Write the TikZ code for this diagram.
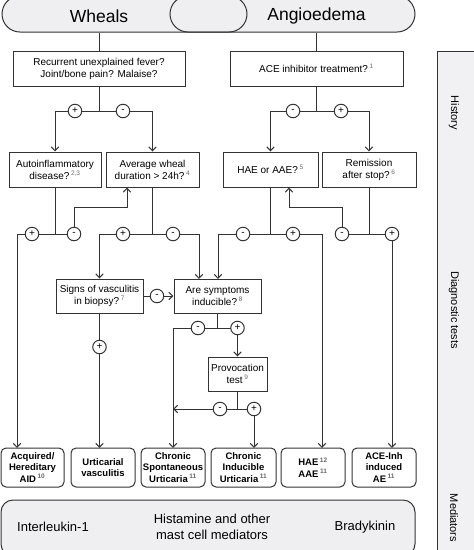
\documentclass[tikz,border=0pt]{standalone}
\usepackage{fontspec}
\setmainfont{Liberation Sans}
\usetikzlibrary{arrows.meta,calc}
\definecolor{lc}{HTML}{333333}
\definecolor{bfill}{HTML}{EFEFF1}
\definecolor{pfill}{HTML}{F1F1F3}
\definecolor{supc}{HTML}{666666}
\newcommand\refnum[1]{\,\textsuperscript{\color{supc}\fontsize{6.5}{6.5}\selectfont #1}}
\begin{document}
\begin{tikzpicture}[x=1pt,y=-1pt,
  line/.style={draw=lc, line width=1pt},
  box/.style={rectangle, draw=lc, line width=1pt, fill=white, align=center, inner sep=1pt, font=\fontsize{10}{12}\selectfont},
  res/.style={box, rounded corners=5pt, minimum width=64pt, minimum height=39pt, font=\fontsize{9.5}{11.7}\selectfont\bfseries},
  sg/.style={circle, draw=lc, line width=1pt, fill=white, minimum size=13.5pt, inner sep=0pt, font=\fontsize{10}{10}\selectfont},
  arr/.style={line, -{Straight Barb[length=4pt,width=7.5pt]}},
  bannerbg/.style={rectangle, fill=bfill, rounded corners=18pt, minimum height=36pt},
  bannerln/.style={rectangle, draw=lc, line width=1pt, rounded corners=18pt, minimum height=36pt},
  bantxt/.style={font=\fontsize{17.5}{17.5}\selectfont, inner sep=0pt},
  medtxt/.style={font=\fontsize{13}{16}\selectfont, align=center, inner sep=0pt},
  paneltxt/.style={font=\fontsize{11}{11}\selectfont, rotate=-90, inner sep=0pt}
]
\useasboundingbox (0,0) rectangle (474,550);

% side panel
\fill[pfill] (437,51) rectangle (480,560);
\draw[line] (437,560) -- (437,51) -- (480,51);
\node[paneltxt] (phist) at (454,113) {History};
\node[paneltxt] (pdiag) at (454,310) {Diagnostic tests};
\node[paneltxt] (pmed) at (454,518) {Mediators};

% banners
\node[bannerbg, minimum width=245pt] (whbg) at (124.5,14) {};
\node[bannerbg, minimum width=245pt] (agbg) at (292.5,14) {};
\node[bannerln, minimum width=245pt] (whb) at (124.5,14) {};
\node[bannerln, minimum width=245pt] (agb) at (292.5,14) {};
\node[bantxt] (wht) at (99,16) {Wheals};
\node[bantxt] (agt) at (316.5,16) {Angioedema};

% mediators
\node[rectangle, draw=lc, line width=1pt, fill=bfill, rounded corners=12pt, minimum width=414pt, minimum height=56pt] (med) at (208,528) {};
\node[medtxt] (il) at (53,527) {Interleukin-1};
\node[medtxt] (hist) at (212,527) {Histamine and other\\mast cell mediators};
\node[medtxt] (brady) at (365,527) {Bradykinin};

% question boxes
\node[box, minimum width=172pt, minimum height=35pt] (rec) at (99,68.5) {Recurrent unexplained fever?\\Joint/bone pain? Malaise?};
\node[box, minimum width=173pt, minimum height=35pt] (ace) at (316.5,68.5) {ACE inhibitor treatment?\refnum{1}};
\node[box, minimum width=92pt, minimum height=35pt] (auto) at (55,169.5) {Autoinflammatory\\disease?\refnum{2,3}};
\node[box, minimum width=93pt, minimum height=35pt] (avg) at (152.5,169.5) {Average wheal\\duration > 24h?\refnum{4}};
\node[box, minimum width=95pt, minimum height=35pt] (hae) at (270.5,169.5) {HAE or AAE?\refnum{5}};
\node[box, minimum width=94pt, minimum height=35pt] (rem) at (369,169.5) {Remission\\after stop?\refnum{6}};
\node[box, minimum width=87pt, minimum height=34pt] (signs) at (99.5,296) {Signs of vasculitis\\in biopsy?\refnum{7}};
\node[box, minimum width=87pt, minimum height=34pt] (are) at (217.5,296) {Are symptoms\\inducible?\refnum{8}};
\node[box, minimum width=59pt, minimum height=34pt] (prov) at (237.5,374) {Provocation\\test\refnum{9}};

% result boxes
\node[res, minimum width=63pt] (aid) at (32.5,467.5) {Acquired/\\Hereditary\\AID\refnum{10}};
\node[res] (uv) at (103,467.5) {Urticarial\\vasculitis};
\node[res] (csu) at (173,467.5) {Chronic\\Spontaneous\\Urticaria\refnum{11}};
\node[res, minimum width=65pt] (ciu) at (243.5,467.5) {Chronic\\Inducible\\Urticaria\refnum{11}};
\node[res] (haeo) at (313,467.5) {HAE\refnum{12}\\AAE\refnum{11}};
\node[res] (acei) at (384,467.5) {ACE-Inh\\induced\\AE\refnum{11}};

% arrow end points on result boxes
\coordinate (eaid) at (17,448);
\coordinate (euv) at (99.5,448);
\coordinate (ecsu) at (173,448);
\coordinate (eciu) at (254,448);
\coordinate (ehae) at (322,448);
\coordinate (eace) at (392,448);

% banners to first boxes
\draw[line] (rec.north |- whb.south) -- (rec.north);
\draw[line] (ace.north |- agb.south) -- (ace.north);

% history branches
\coordinate (j1) at (99,111);
\draw[line] (rec.south) -- (j1);
\draw[arr] (j1) -| (auto.north);
\draw[arr] (j1) -| (avg.north);
\coordinate (j2) at (316.5,111);
\draw[line] (ace.south) -- (j2);
\draw[arr] (j2) -| (hae.north);
\draw[arr] (j2) -| (rem.north);

% autoinflammatory
\coordinate (j3) at (55,234);
\draw[line] (auto.south) -- (j3);
\draw[arr] (j3) -| (eaid);
\coordinate (k3) at (127,207);
\draw[arr] (j3) -- (74,234) -- (74,207) -- (k3) -- (k3 |- avg.south);

% average wheal
\coordinate (j4) at (152.5,234);
\draw[line] (avg.south) -- (j4);
\draw[arr] (j4) -| (signs.north);
\coordinate (t4) at (199,279);
\draw[arr] (j4) -| (t4);

% HAE or AAE
\coordinate (j5) at (270.5,234);
\draw[line] (hae.south) -- (j5);
\coordinate (t5) at (218,279);
\draw[arr] (j5) -| (t5);
\draw[arr] (j5) -| (ehae);

% remission
\coordinate (j6) at (369,234);
\draw[line] (rem.south) -- (j6);
\coordinate (k6) at (289,207);
\draw[arr] (j6) -- (342,234) -- (342,207) -- (k6) -- (k6 |- hae.south);
\draw[arr] (j6) -| (eace);

% signs of vasculitis
\draw[arr] (signs.east) -- (are.west);
\draw[arr] (signs.south) -- (euv);

% are symptoms inducible
\coordinate (j7) at (217.5,328);
\draw[line] (are.south) -- (j7);
\draw[arr] (j7) -| (ecsu);
\draw[arr] (j7) -| (prov.north);

% provocation
\coordinate (j8) at (237.5,409);
\draw[line] (prov.south) -- (j8);
\coordinate (m8) at (173,409);
\draw[arr] (j8) -- (m8);
\draw[arr] (j8) -| (eciu);

% sign circles
\node[sg] (s1) at (75,111) {+};
\node[sg] (s2) at (123,111) {-};
\node[sg] (s3) at (293,111) {-};
\node[sg] (s4) at (341,111) {+};
\node[sg] (s5) at (32,234) {+};
\node[sg] (s6) at (74,234) {-};
\node[sg] (s7) at (123,234) {+};
\node[sg] (s8) at (173,234) {-};
\node[sg] (s9) at (243,234) {-};
\node[sg] (s10) at (293,234) {+};
\node[sg] (s11) at (342,234) {-};
\node[sg] (s12) at (392,234) {+};
\node[sg] (s13) at (157,296) {-};
\node[sg] (s14) at (99.5,347) {+};
\node[sg] (s15) at (198,328) {-};
\node[sg] (s16) at (237.5,328) {+};
\node[sg] (s17) at (220,409) {-};
\node[sg] (s18) at (254,409) {+};
\end{tikzpicture}
\end{document}
